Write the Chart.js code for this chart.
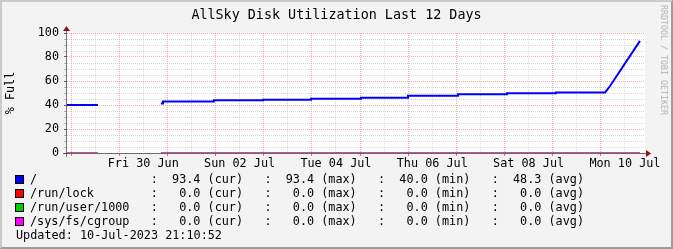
<!DOCTYPE html>
<html>
<head>
<meta charset="utf-8">
<script src="https://cdn.jsdelivr.net/npm/chart.js@4/dist/chart.umd.min.js"></script>
<style>
html, body { margin: 0; padding: 0; }
body { width: 673px; height: 249px; overflow: hidden; position: relative; font-family: "DejaVu Sans Mono", monospace; }
#frame { position: absolute; left: 0; top: 0; width: 673px; height: 249px; box-sizing: border-box;
  background: #f3f3f3; border-top: 2px solid #cbcbcb; border-left: 2px solid #cbcbcb;
  border-right: 2px solid #9c9c9c; border-bottom: 2px solid #9c9c9c; }
#graphe { position: absolute; left: 0; top: 0; }
.txt { position: absolute; white-space: pre; color: #000; font-size: 11.8px; line-height: 14px; }
#titre { left: 0; width: 673px; top: 6px; text-align: center; font-size: 13.4px; line-height: 18px; }
#ylabel { left: 10px; top: 93px; transform: translate(-50%, -50%) rotate(-90deg); }
#marque { left: 664px; top: 60px; font-size: 8.3px; color: #b4b4b4; transform: translate(-50%, -50%) rotate(90deg); }
.boite { position: absolute; width: 7px; height: 7px; border: 1px solid #000; }
</style>
</head>
<body>
<div id="frame"></div>
<canvas id="graphe" width="673" height="249"></canvas>
<div class="txt" id="titre">AllSky Disk Utilization Last 12 Days</div>
<div class="txt" id="ylabel">% Full</div>
<div class="txt" id="marque">RRDTOOL / TOBI OETIKER</div>
<div id="legende"></div>
<script>
// ---------------- donnees (heures depuis le debut du graphe, 28 juin 22:00) ----------------
const heuresRacine = [0, 15.4, 30, 46.8, 47.8, 47.8, 73.2, 73.2, 97.7, 97.7, 121.6, 121.6, 146.5, 146.5,
  169.9, 169.9, 194.8, 194.8, 219.2, 219.2, 243.6, 243.6, 268.1, 270.5, 285.5];
const pctRacine = [40.0, 40.0, null, 41.3, 41.3, 43.0, 43.0, 43.9, 43.9, 44.4, 44.4, 45.3, 45.3, 46.1,
  46.1, 47.8, 47.8, 48.9, 48.9, 49.7, 49.7, 50.5, 50.5, 55.6, 93.4];

const heuresZero = [0, 15.4, 30, 46.8, 285.5];
const pctZero = [0, 0, null, 0, 0];

const jourLabels = ['Fri 30 Jun', 'Sun 02 Jul', 'Tue 04 Jul', 'Thu 06 Jul', 'Sat 08 Jul', 'Mon 10 Jul'];
const jourHeures = [38, 86, 134, 182, 230, 278];

const nomsFs = ['/', '/run/lock', '/run/user/1000', '/sys/fs/cgroup'];
const couleursFs = ['#0000ff', '#ff0000', '#00cc00', '#ff00ff'];
const valCur = [93.4, 0.0, 0.0, 0.0];
const valMax = [93.4, 0.0, 0.0, 0.0];
const valMin = [40.0, 0.0, 0.0, 0.0];
const valAvg = [48.3, 0.0, 0.0, 0.0];
const miseAJour = 'Updated: 10-Jul-2023 21:10:52';

// ---------------- legende facon rrdtool ----------------
function fmt(v) { return v.toFixed(1).padStart(6); }
const legende = document.getElementById('legende');
for (let i = 0; i < nomsFs.length; i++) {
    const b = document.createElement('div');
    b.className = 'boite';
    b.style.left = '15px';
    b.style.top = (175 + 14 * i) + 'px';
    b.style.background = couleursFs[i];
    legende.appendChild(b);
    const t = document.createElement('div');
    t.className = 'txt';
    t.style.left = '30px';
    t.style.top = (172 + 14 * i) + 'px';
    t.textContent = nomsFs[i].padEnd(17) + ':' + fmt(valCur[i]) + ' (cur)   :' + fmt(valMax[i]) +
        ' (max)   :' + fmt(valMin[i]) + ' (min)   :' + fmt(valAvg[i]) + ' (avg)';
    legende.appendChild(t);
}
const maj = document.createElement('div');
maj.className = 'txt';
maj.style.left = '16px';
maj.style.top = (172 + 14 * 4) + 'px';
maj.textContent = miseAJour;
legende.appendChild(maj);

// ---------------- graphique ----------------
const policeMono = { family: '"DejaVu Sans Mono", monospace', size: 11.8 };
const grilleMineure = 'rgba(150,150,150,0.35)';
const grilleMajeure = 'rgba(220,110,110,0.55)';

const grilleHeures = [];
for (let h = 2; h <= 278; h += 12) grilleHeures.push(h);

function points(xs, ys) {
    return xs.map((x, i) => ({ x: x, y: ys[i] }));
}

const fondEtAxes = {
    id: 'fondEtAxes',
    beforeDraw(chart) {
        const a = chart.chartArea, c = chart.ctx;
        c.save();
        c.fillStyle = '#ffffff';
        c.fillRect(a.left, a.top, a.right - a.left, a.bottom - a.top);
        c.restore();
    },
    afterDatasetsDraw(chart) {
        const a = chart.chartArea, c = chart.ctx;
        c.save();
        c.strokeStyle = 'rgba(60,60,60,0.7)';
        c.lineWidth = 1;
        c.beginPath();
        c.moveTo(a.left - 0.5, a.bottom + 4);
        c.lineTo(a.left - 0.5, a.top - 4);
        c.moveTo(a.left - 4, a.bottom + 0.5);
        c.lineTo(a.right + 3, a.bottom + 0.5);
        c.stroke();
        c.fillStyle = '#8b1515';
        c.beginPath();
        c.moveTo(a.left - 0.5, a.top - 7);
        c.lineTo(a.left - 4, a.top - 2);
        c.lineTo(a.left + 3, a.top - 2);
        c.closePath();
        c.fill();
        c.beginPath();
        c.moveTo(a.right + 6, a.bottom + 0.5);
        c.lineTo(a.right + 1, a.bottom - 3);
        c.lineTo(a.right + 1, a.bottom + 4);
        c.closePath();
        c.fill();
        c.restore();
    }
};

const datasets = [{
    label: nomsFs[0], data: points(heuresRacine, pctRacine), borderColor: couleursFs[0],
    borderWidth: 2, order: 0
}];
for (let i = 1; i < nomsFs.length; i++) {
    datasets.push({
        label: nomsFs[i], data: points(heuresZero, pctZero), borderColor: couleursFs[i],
        borderWidth: 1, order: 5 - i
    });
}

new Chart(document.getElementById('graphe'), {
    type: 'line',
    data: { datasets: datasets },
    options: {
        responsive: false,
        animation: false,
        events: [],
        spanGaps: false,
        elements: { point: { radius: 0 }, line: { tension: 0 } },
        layout: { padding: { left: 0, right: 28, top: 33, bottom: 74 } },
        plugins: { legend: { display: false }, tooltip: { enabled: false }, title: { display: false } },
        scales: {
            x: {
                type: 'linear', min: 0, max: 288,
                afterBuildTicks: s => { s.ticks = grilleHeures.map(v => ({ value: v })); },
                afterFit: s => { s.height = 22; s.paddingLeft = 0; s.paddingRight = 0; },
                border: { display: false, dash: [1, 1] },
                grid: {
                    color: c => ((c.tick.value - 2) % 24 === 0 ? grilleMajeure : grilleMineure),
                    tickColor: c => ((c.tick.value - 2) % 24 === 0 ? 'rgba(200,90,90,0.8)' : 'rgba(0,0,0,0)'),
                    tickLength: 3,
                    tickBorderDash: []
                },
                ticks: {
                    autoSkip: false, maxRotation: 0, minRotation: 0, padding: 1, color: '#000',
                    font: policeMono,
                    callback: v => {
                        const k = jourHeures.indexOf(v);
                        return k >= 0 ? jourLabels[k] : '';
                    }
                }
            },
            y: {
                min: 0, max: 100,
                afterFit: s => { s.width = 67; s.paddingTop = 0; s.paddingBottom = 0; },
                border: { display: false, dash: [1, 1] },
                grid: {
                    color: c => (c.tick.value % 20 === 0 ? grilleMajeure : grilleMineure),
                    tickColor: c => (c.tick.value % 20 === 0 ? 'rgba(60,60,60,0.8)' : 'rgba(120,120,120,0.5)'),
                    tickLength: 3,
                    tickBorderDash: []
                },
                ticks: {
                    stepSize: 5, autoSkip: false, padding: 5, color: '#000', font: policeMono,
                    callback: v => (v % 20 === 0 ? String(v) : '')
                }
            }
        }
    },
    plugins: [fondEtAxes]
});
</script>
</body>
</html>
